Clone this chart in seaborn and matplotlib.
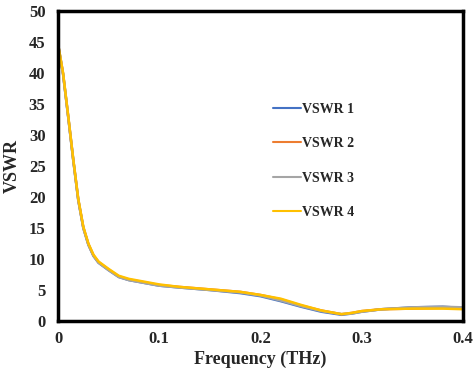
import numpy as np
import pandas as pd
import matplotlib
matplotlib.use("Agg")
import matplotlib.pyplot as plt
import seaborn as sns

# frequency points (THz)
freq = [0.0, 0.005, 0.01, 0.015, 0.02, 0.025, 0.03, 0.035, 0.04, 0.05, 0.06, 0.07, 0.08,
        0.1, 0.12, 0.15, 0.18, 0.2, 0.22, 0.24, 0.26, 0.28, 0.29, 0.3, 0.32, 0.35, 0.38, 0.4]

vswr1 = [44.7, 39.8, 33.0, 26.0, 19.5, 15.0, 12.3, 10.5, 9.4, 8.2, 7.1, 6.6, 6.3,
         5.7, 5.4, 5.0, 4.5, 4.0, 3.2, 2.3, 1.5, 1.0, 1.2, 1.5, 1.9, 2.2, 2.3, 2.1]
vswr2 = [44.7, 39.9, 33.1, 26.1, 19.6, 15.1, 12.4, 10.6, 9.5, 8.3, 7.2, 6.7, 6.4,
         5.8, 5.5, 5.1, 4.7, 4.2, 3.5, 2.5, 1.7, 1.1, 1.3, 1.6, 1.9, 2.0, 2.1, 2.0]
vswr3 = [44.7, 39.8, 33.0, 26.0, 19.5, 15.0, 12.3, 10.5, 9.4, 8.2, 7.1, 6.6, 6.3,
         5.7, 5.4, 5.0, 4.6, 4.1, 3.3, 2.4, 1.6, 1.1, 1.2, 1.5, 1.9, 2.2, 2.3, 2.2]
vswr4 = [44.7, 40.0, 33.2, 26.2, 19.7, 15.2, 12.5, 10.7, 9.6, 8.4, 7.3, 6.8, 6.5,
         5.9, 5.5, 5.1, 4.7, 4.2, 3.6, 2.6, 1.7, 1.1, 1.3, 1.6, 1.9, 2.0, 2.0, 1.9]

labels = ["VSWR 1", "VSWR 2", "VSWR 3", "VSWR 4"]
colors = ["#4472C4", "#ED7D31", "#A5A5A5", "#FFC000"]

df = pd.concat([
    pd.DataFrame({"freq": freq, "vswr": v, "series": lab})
    for v, lab in zip([vswr1, vswr2, vswr3, vswr4], labels)
])

sns.set_style("white")
plt.rcParams["font.family"] = ["Liberation Serif", "DejaVu Serif"]
plt.rcParams["font.weight"] = "bold"

fig = plt.figure(figsize=(4.74, 3.75), dpi=100)
ax = fig.add_axes([0.1224, 0.144, 0.8544, 0.8266])

sns.lineplot(data=df, x="freq", y="vswr", hue="series", palette=colors,
             linewidth=1.8, ax=ax, legend=True)

ax.set_xlim(0, 0.4)
ax.set_ylim(0, 50)
ax.set_xticks([0, 0.1, 0.2, 0.3, 0.4])
ax.set_xticklabels(["0", "0.1", "0.2", "0.3", "0.4"])
ax.set_yticks(range(0, 51, 5))
ax.tick_params(axis="x", length=0, labelsize=12, pad=7)
ax.tick_params(axis="y", length=0, labelsize=12, pad=9)
for t in ax.get_xticklabels() + ax.get_yticklabels():
    t.set_fontweight("bold")

for s in ax.spines.values():
    s.set_color("black")
    s.set_linewidth(2.5)

ax.set_xlabel("Frequency (THz)", fontsize=13, fontweight="bold", labelpad=3)
ax.set_ylabel("VSWR", fontsize=13, fontweight="bold", labelpad=6)

leg = ax.legend(loc="upper left", bbox_to_anchor=(0.5, 0.745), frameon=False,
                prop={"size": 10, "weight": "bold"}, handlelength=2.0,
                handletextpad=0.1, labelspacing=1.55)
for h in leg.get_lines():
    h.set_linewidth(1.5)

fig.savefig("out.png", dpi=100)
